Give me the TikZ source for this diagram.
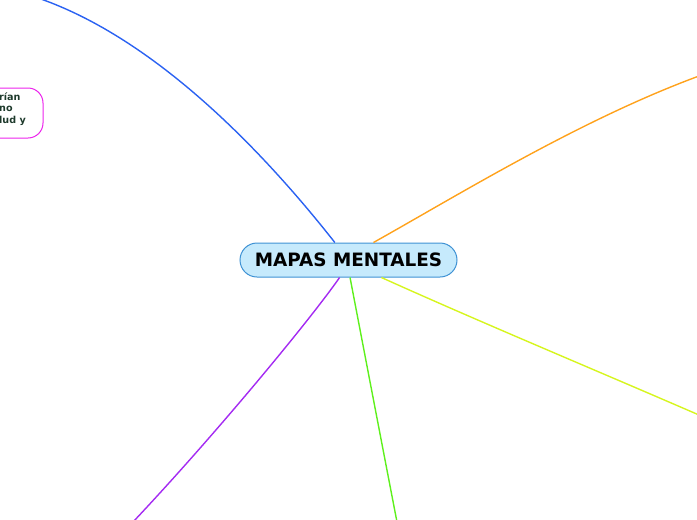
\documentclass[tikz,border=0pt]{standalone}
\usepackage{fontspec}
\setmainfont{DejaVu Sans}
\usepackage{tikz}
\usetikzlibrary{positioning}

\definecolor{mapfill}{HTML}{C6EAFC}
\definecolor{mapline}{HTML}{3F92D4}
\definecolor{bluebranch}{HTML}{2B62F2}
\definecolor{orangebranch}{HTML}{FFA21C}
\definecolor{yellowbranch}{HTML}{D6F51E}
\definecolor{greenbranch}{HTML}{5EF01C}
\definecolor{purplebranch}{HTML}{A42BF2}
\definecolor{notemagenta}{HTML}{EC24EC}
\definecolor{notetext}{HTML}{1E3A2C}

\begin{document}
\begin{tikzpicture}[x=1pt,y=-1pt]
\tikzstyle{central} = [draw=mapline, fill=mapfill, line width=1pt, rounded corners=17pt,
  minimum width=217pt, minimum height=34pt, inner sep=0pt,
  font=\fontsize{18.4}{22}\selectfont\bfseries]
\tikzstyle{notebox} = [draw=notemagenta, line width=1pt, rounded corners=15pt,
  minimum width=186pt, minimum height=50pt, inner sep=0pt]
\tikzstyle{notelines} = [text=notetext, align=left, inner sep=0pt,
  font=\fontsize{9.6}{11.6}\selectfont\bfseries]
\tikzstyle{branch} = [line width=1.4pt]

\clip (0,0) rectangle (697,520);

\node[notebox] (note) at (-50,113) {};
\node[notelines, anchor=north west] (notetxt) at (-1,92.5) {rían\\no\\lud y};

\node[central] (main) at (348.5,260) {MAPAS MENTALES};

\coordinate (endblue) at (38,-2);
\coordinate (endorange) at (699,76);
\coordinate (endyellow) at (699,415);
\coordinate (endgreen) at (397,522);
\coordinate (endpurple) at (133,522);

\draw[branch, bluebranch] (main.128) .. controls (270,160) and (160,40) .. (endblue);
\draw[branch, orangebranch] (main.35) .. controls (460,194) and (580,120) .. (endorange);
\draw[branch, yellowbranch] (main.-28) .. controls (480,322) and (600,372) .. (endyellow);
\draw[branch, greenbranch] (main.-85) .. controls (362,340) and (385,460) .. (endgreen);
\draw[branch, purplebranch] (main.-117) .. controls (310,320) and (215,435) .. (endpurple);
\end{tikzpicture}
\end{document}
